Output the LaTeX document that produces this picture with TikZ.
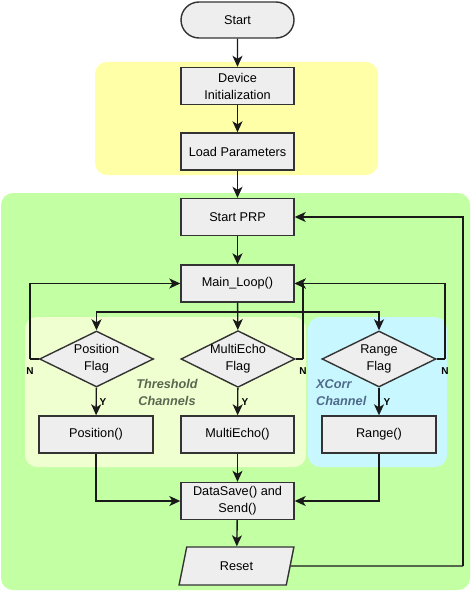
\documentclass[tikz,border=0pt]{standalone}
\usepackage{fontspec}
\setmainfont{Liberation Sans}
\usetikzlibrary{shapes.geometric,shapes.misc,arrows.meta}
\definecolor{boxfill}{HTML}{EEEEEE}
\definecolor{boxline}{HTML}{333333}
\definecolor{regyellow}{HTML}{FFFFA8}
\definecolor{reggreen}{HTML}{C3FFA3}
\definecolor{reglight}{HTML}{F0FFCF}
\definecolor{regblue}{HTML}{C9F7FF}
\definecolor{thrtext}{HTML}{5A6852}
\definecolor{xcotext}{HTML}{4E6A8A}
\begin{document}
\begin{tikzpicture}[x=1pt,y=-1pt,
  every node/.style={font=\fontsize{12.7}{17}\selectfont},
  region/.style={rounded corners=12pt},
  procbox/.style={draw=boxline,fill=boxfill,line width=1.4pt,minimum width=113pt,minimum height=37pt,inner sep=0pt,align=center},
  termbox/.style={rounded rectangle,draw=boxline,fill=boxfill,line width=1.4pt,minimum width=113pt,minimum height=36pt,inner sep=0pt},
  flagbox/.style={diamond,aspect=2,draw=boxline,fill=boxfill,line width=1.4pt,minimum width=114pt,minimum height=56pt,inner sep=0pt,align=center},
  iobox/.style={trapezium,trapezium left angle=74,trapezium right angle=106,trapezium stretches=true,draw=boxline,fill=boxfill,line width=1.4pt,minimum width=115pt,minimum height=38pt,inner sep=0pt},
  arr/.style={-{Stealth[length=11pt,width=10pt,inset=3pt]},line width=1.4pt,draw=black!90},
  lnk/.style={line width=1.4pt,draw=black!90},
  yn/.style={font=\fontsize{10}{12}\selectfont\bfseries,inner sep=0pt},
  grp/.style={font=\fontsize{12.7}{17}\selectfont\bfseries\itshape,inner sep=0pt}
]
\useasboundingbox (0,0) rectangle (474,591);
% regions
\fill[regyellow,region] (95,62) rectangle (378,175);
\fill[reggreen,region] (1,193) rectangle (470,590);
\fill[reglight,region] (25,317) rectangle (306,467);
\fill[regblue,region] (308,317) rectangle (447,467);
% nodes
\node[termbox] (start) at (237.5,20) {Start};
\node[procbox] (dev) at (237.5,86) {Device\\Initialization};
\node[procbox] (load) at (237.5,151.5) {Load Parameters};
\node[procbox] (prp) at (237.5,217) {Start PRP};
\node[procbox] (ml) at (237.5,283.5) {Main\_Loop()};
\node[flagbox] (pf) at (96.5,359) {Position\\Flag};
\node[flagbox] (mf) at (238,359) {MultiEcho\\Flag};
\node[flagbox] (rf) at (379,359) {Range\\Flag};
\node[procbox,minimum width=114pt] (pos) at (96,434.5) {Position()};
\node[procbox] (me) at (237.5,434.5) {MultiEcho()};
\node[procbox,minimum width=114pt] (rng) at (379,434.5) {Range()};
\node[procbox] (ds) at (237.5,501) {DataSave() and\\Send()};
\node[iobox] (reset) at (236.5,566) {Reset};
% group labels
\node[grp,text=thrtext,align=center] (thr) at (167,392.5) {Threshold\\Channels};
\node[grp,text=xcotext,align=left,anchor=west] (xco) at (316,392.5) {XCorr\\Channel};
% connectors
\draw[arr] (start) -- (dev);
\draw[arr] (dev) -- (load);
\draw[arr] (load) -- (prp);
\draw[arr] (prp) -- (ml);
\coordinate (br) at (237.5,312);
\draw[arr] (ml) -- (mf);
\draw[arr] (br) -| (pf.north);
\draw[arr] (br) -| (rf.north);
\coordinate (nl) at (30,359);
\coordinate (nm) at (303,359);
\coordinate (nr) at (445,359);
\draw[lnk] (pf.west) -- (nl);
\draw[arr] (nl) |- (ml.west);
\draw[lnk] (mf.east) -- (nm);
\draw[arr] (nm) |- (ml.east);
\draw[lnk] (rf.east) -- (nr);
\draw[arr] (nr) |- (ml.east);
\draw[arr] (pf) -- (pos);
\draw[arr] (mf) -- (me);
\draw[arr] (rf) -- (rng);
\draw[arr] (pos) |- (ds.west);
\draw[arr] (me) -- (ds);
\draw[arr] (rng) |- (ds.east);
\draw[arr] (ds) -- (reset);
\coordinate (rt) at (463,566);
\draw[lnk] (reset.east) -- (rt);
\draw[arr] (rt) |- (prp.east);
% N / Y labels
\node[yn] (n1) at (30,371) {N};
\node[yn] (n2) at (303,371) {N};
\node[yn] (n3) at (445,371) {N};
\node[yn] (y1) at (103,402) {Y};
\node[yn] (y2) at (245,402) {Y};
\node[yn] (y3) at (387,402) {Y};
\end{tikzpicture}
\end{document}
